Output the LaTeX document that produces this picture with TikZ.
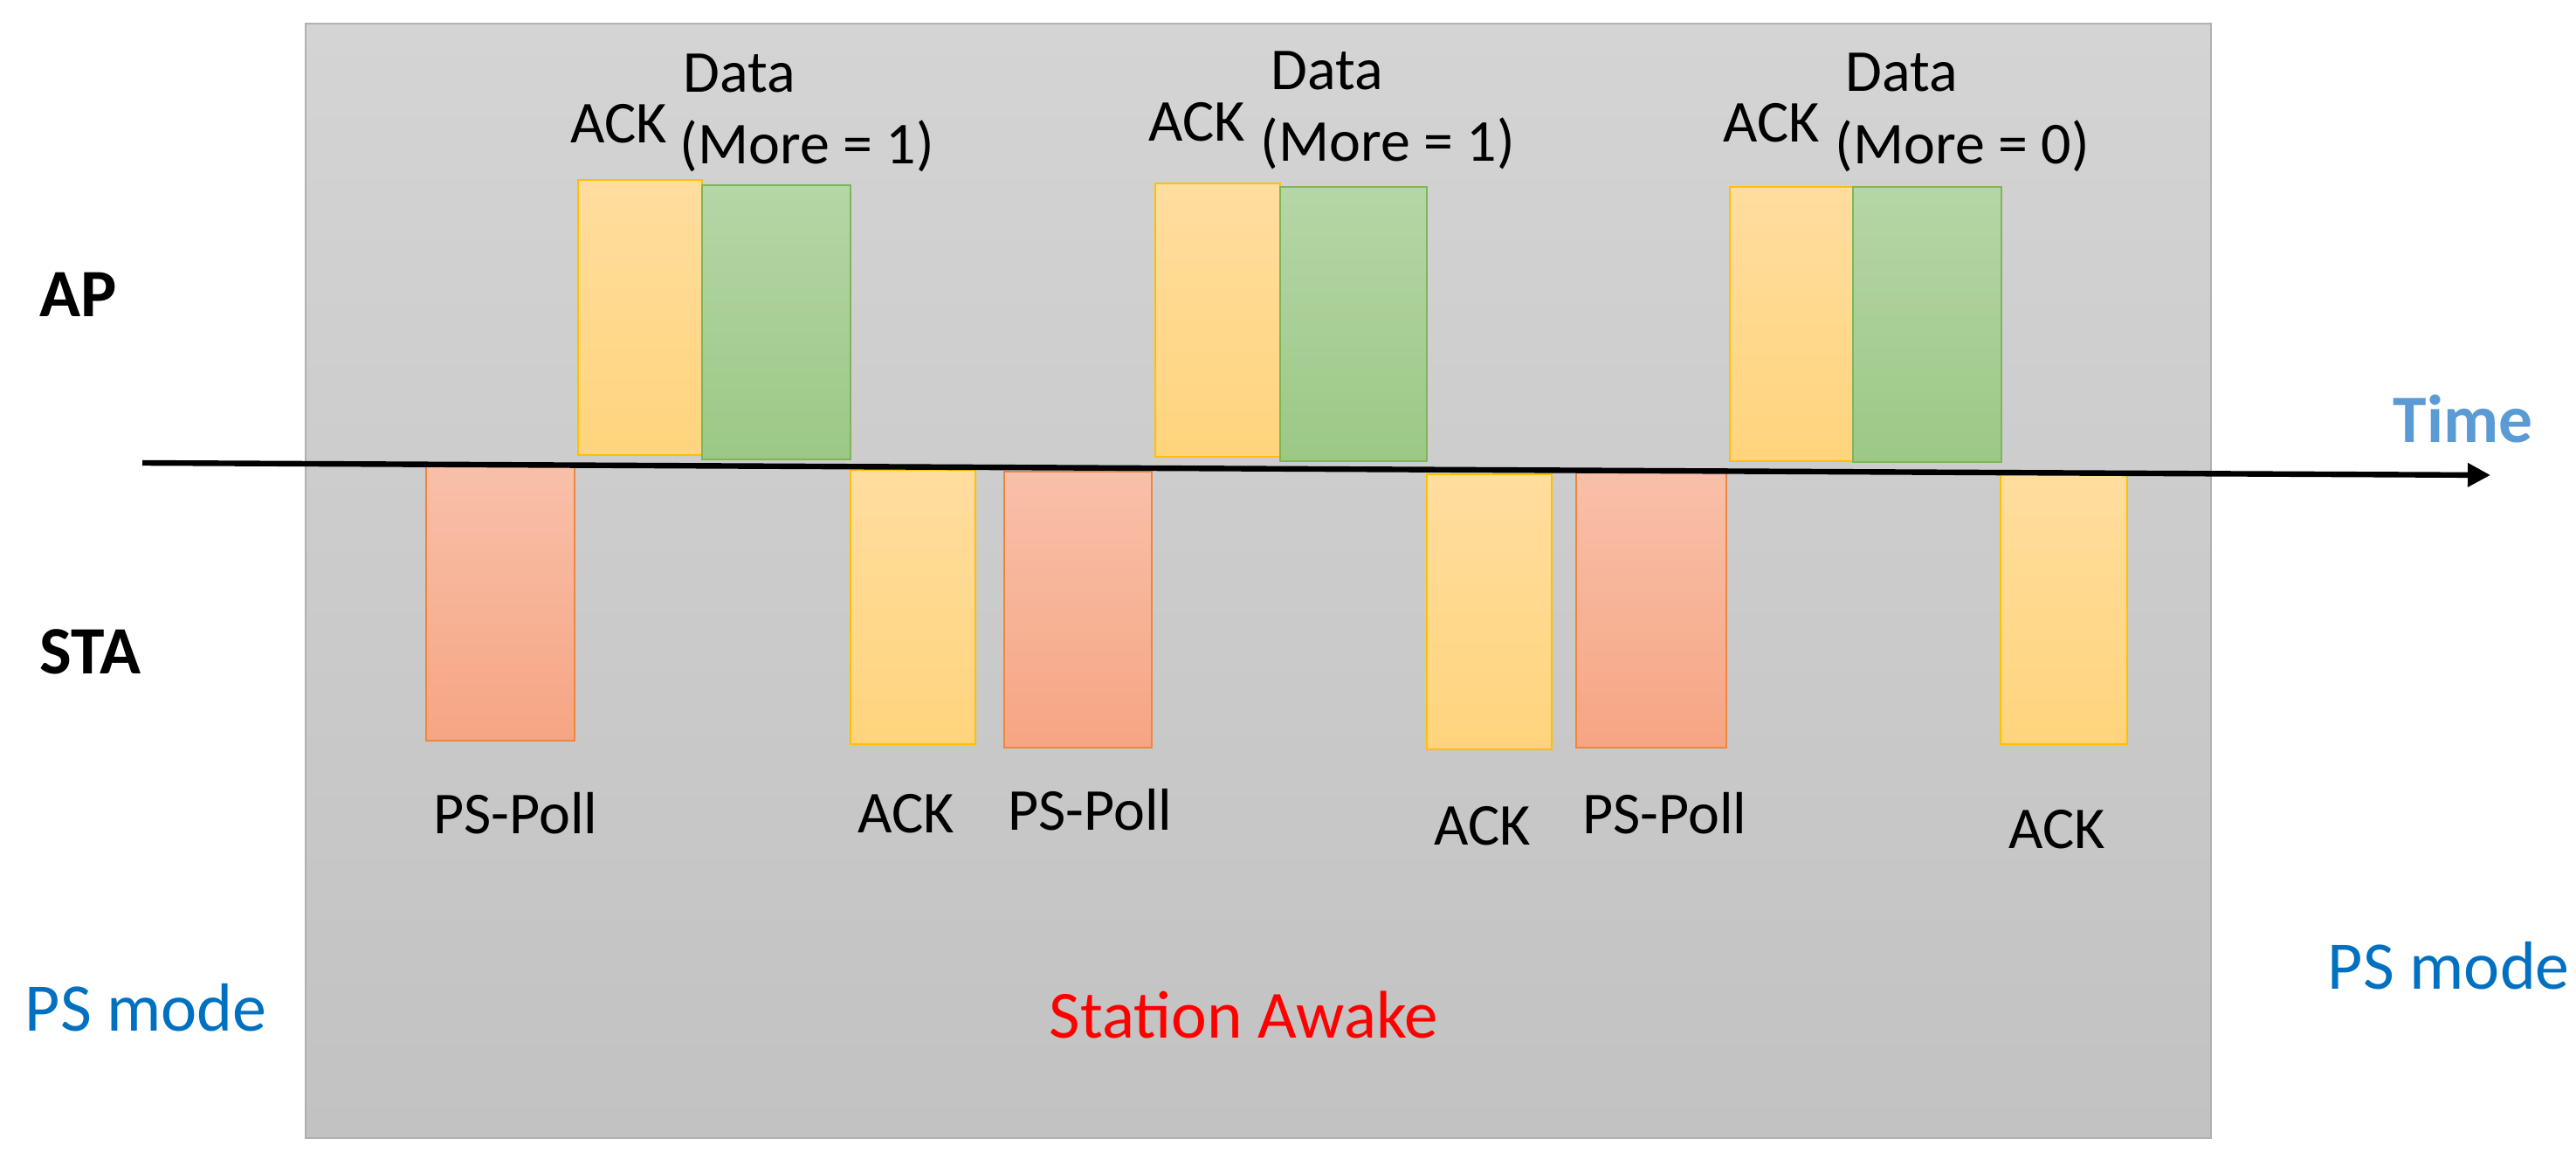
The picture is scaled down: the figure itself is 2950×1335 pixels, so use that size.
\documentclass[tikz,border=0pt]{standalone}
\usepackage{fontspec}
\setmainfont{Carlito}
\usetikzlibrary{arrows.meta}
\definecolor{bgtop}{HTML}{D4D4D4}
\definecolor{bgbot}{HTML}{C2C2C2}
\definecolor{bgline}{HTML}{B0B0B0}
\definecolor{acktop}{HTML}{FFDD9E}
\definecolor{ackbot}{HTML}{FFD47C}
\definecolor{ackline}{HTML}{FFC000}
\definecolor{dattop}{HTML}{B5D6A6}
\definecolor{datbot}{HTML}{9CC886}
\definecolor{datline}{HTML}{7DB65A}
\definecolor{poltop}{HTML}{F8C0A9}
\definecolor{polbot}{HTML}{F6A583}
\definecolor{polline}{HTML}{EE8640}
\definecolor{psblue}{HTML}{0070C0}
\definecolor{timeblue}{HTML}{5B9BD5}
\definecolor{awred}{HTML}{FF0000}
\newcommand\blk[6]{\node[#1, anchor=north west, minimum width={(#5-#3)*0.25pt}, minimum height={(#6-#4)*0.25pt}] (#2) at (#3,#4) {};}
\begin{document}
\begin{tikzpicture}[x=0.25pt,y=-0.25pt,
  box/.style={draw, inner sep=0pt, outer sep=0pt, line width=0.5pt},
  bgbox/.style={box, draw=bgline, top color=bgtop, bottom color=bgbot, line width=0.4pt},
  ackbox/.style={box, draw=ackline, top color=acktop, bottom color=ackbot},
  datbox/.style={box, draw=datline, top color=dattop, bottom color=datbot},
  polbox/.style={box, draw=polline, top color=poltop, bottom color=polbot},
  lbl/.style={font=\fontsize{17}{20.4}\selectfont, inner sep=0pt, anchor=base west},
  side/.style={font=\fontsize{19.4}{23}\selectfont\bfseries, inner sep=0pt, anchor=base west},
  mode/.style={font=\fontsize{19.5}{23}\selectfont, text=psblue, inner sep=0pt, anchor=base west},
  axis/.style={line width=1.6pt, -{Triangle[length=6.5pt,width=6.5pt]}}
]
\useasboundingbox (0,0) rectangle (2950,1335);
\blk{bgbox}{bg}{350}{27}{2532}{1303}
% AP side
\blk{ackbox}{apack1}{662}{206}{804}{521}
\blk{datbox}{data1}{804}{212}{974}{526}
\blk{ackbox}{apack2}{1323}{210}{1466}{523}
\blk{datbox}{data2}{1466}{214}{1634}{528}
\blk{ackbox}{apack3}{1981}{214}{2122}{528}
\blk{datbox}{data3}{2122}{214}{2292}{529}
% STA side
\blk{polbox}{poll1}{488}{533}{658}{848}
\blk{ackbox}{stack1}{974}{538}{1117}{852}
\blk{polbox}{poll2}{1150}{540}{1319}{856}
\blk{ackbox}{stack2}{1634}{543}{1777}{858}
\blk{polbox}{poll3}{1805}{540}{1977}{856}
\blk{ackbox}{stack3}{2291}{540}{2436}{852}
% time axis
\coordinate (t0) at (163,530);
\coordinate (t1) at (2852,544);
\draw[axis] (t0) -- (t1);
% labels
\node[side] (ap) at (45,363) {AP};
\node[side] (sta) at (45,771) {STA};
\node[side, text=timeblue] (time) at (2740,507) {Time};
\node[mode] (psl) at (28,1180) {PS mode};
\node[mode] (psr) at (2665,1132) {PS mode};
\node[font=\fontsize{19.3}{23}\selectfont, text=awred, inner sep=0pt, anchor=base west] (awake) at (1201,1188) {Station Awake};
% AP labels
\node[lbl] (lapack1) at (653,164) {ACK};
\node[lbl] (ldata1) at (782,106) {Data};
\node[lbl] (lmore1) at (778,188) {(More = 1)};
\node[lbl] (lapack2) at (1315,162) {ACK};
\node[lbl] (ldata2) at (1455,103) {Data};
\node[lbl] (lmore2) at (1443,185) {(More = 1)};
\node[lbl] (lapack3) at (1973,163) {ACK};
\node[lbl] (ldata3) at (2113,105) {Data};
\node[lbl] (lmore3) at (2101,188) {(More = 0)};
% STA labels
\node[lbl] (lpoll1) at (496,954) {PS-Poll};
\node[lbl] (lstack1) at (982,953) {ACK};
\node[lbl] (lpoll2) at (1154,950) {PS-Poll};
\node[lbl] (lstack2) at (1642,967) {ACK};
\node[lbl] (lpoll3) at (1812,954) {PS-Poll};
\node[lbl] (lstack3) at (2300,971) {ACK};
\end{tikzpicture}
\end{document}
